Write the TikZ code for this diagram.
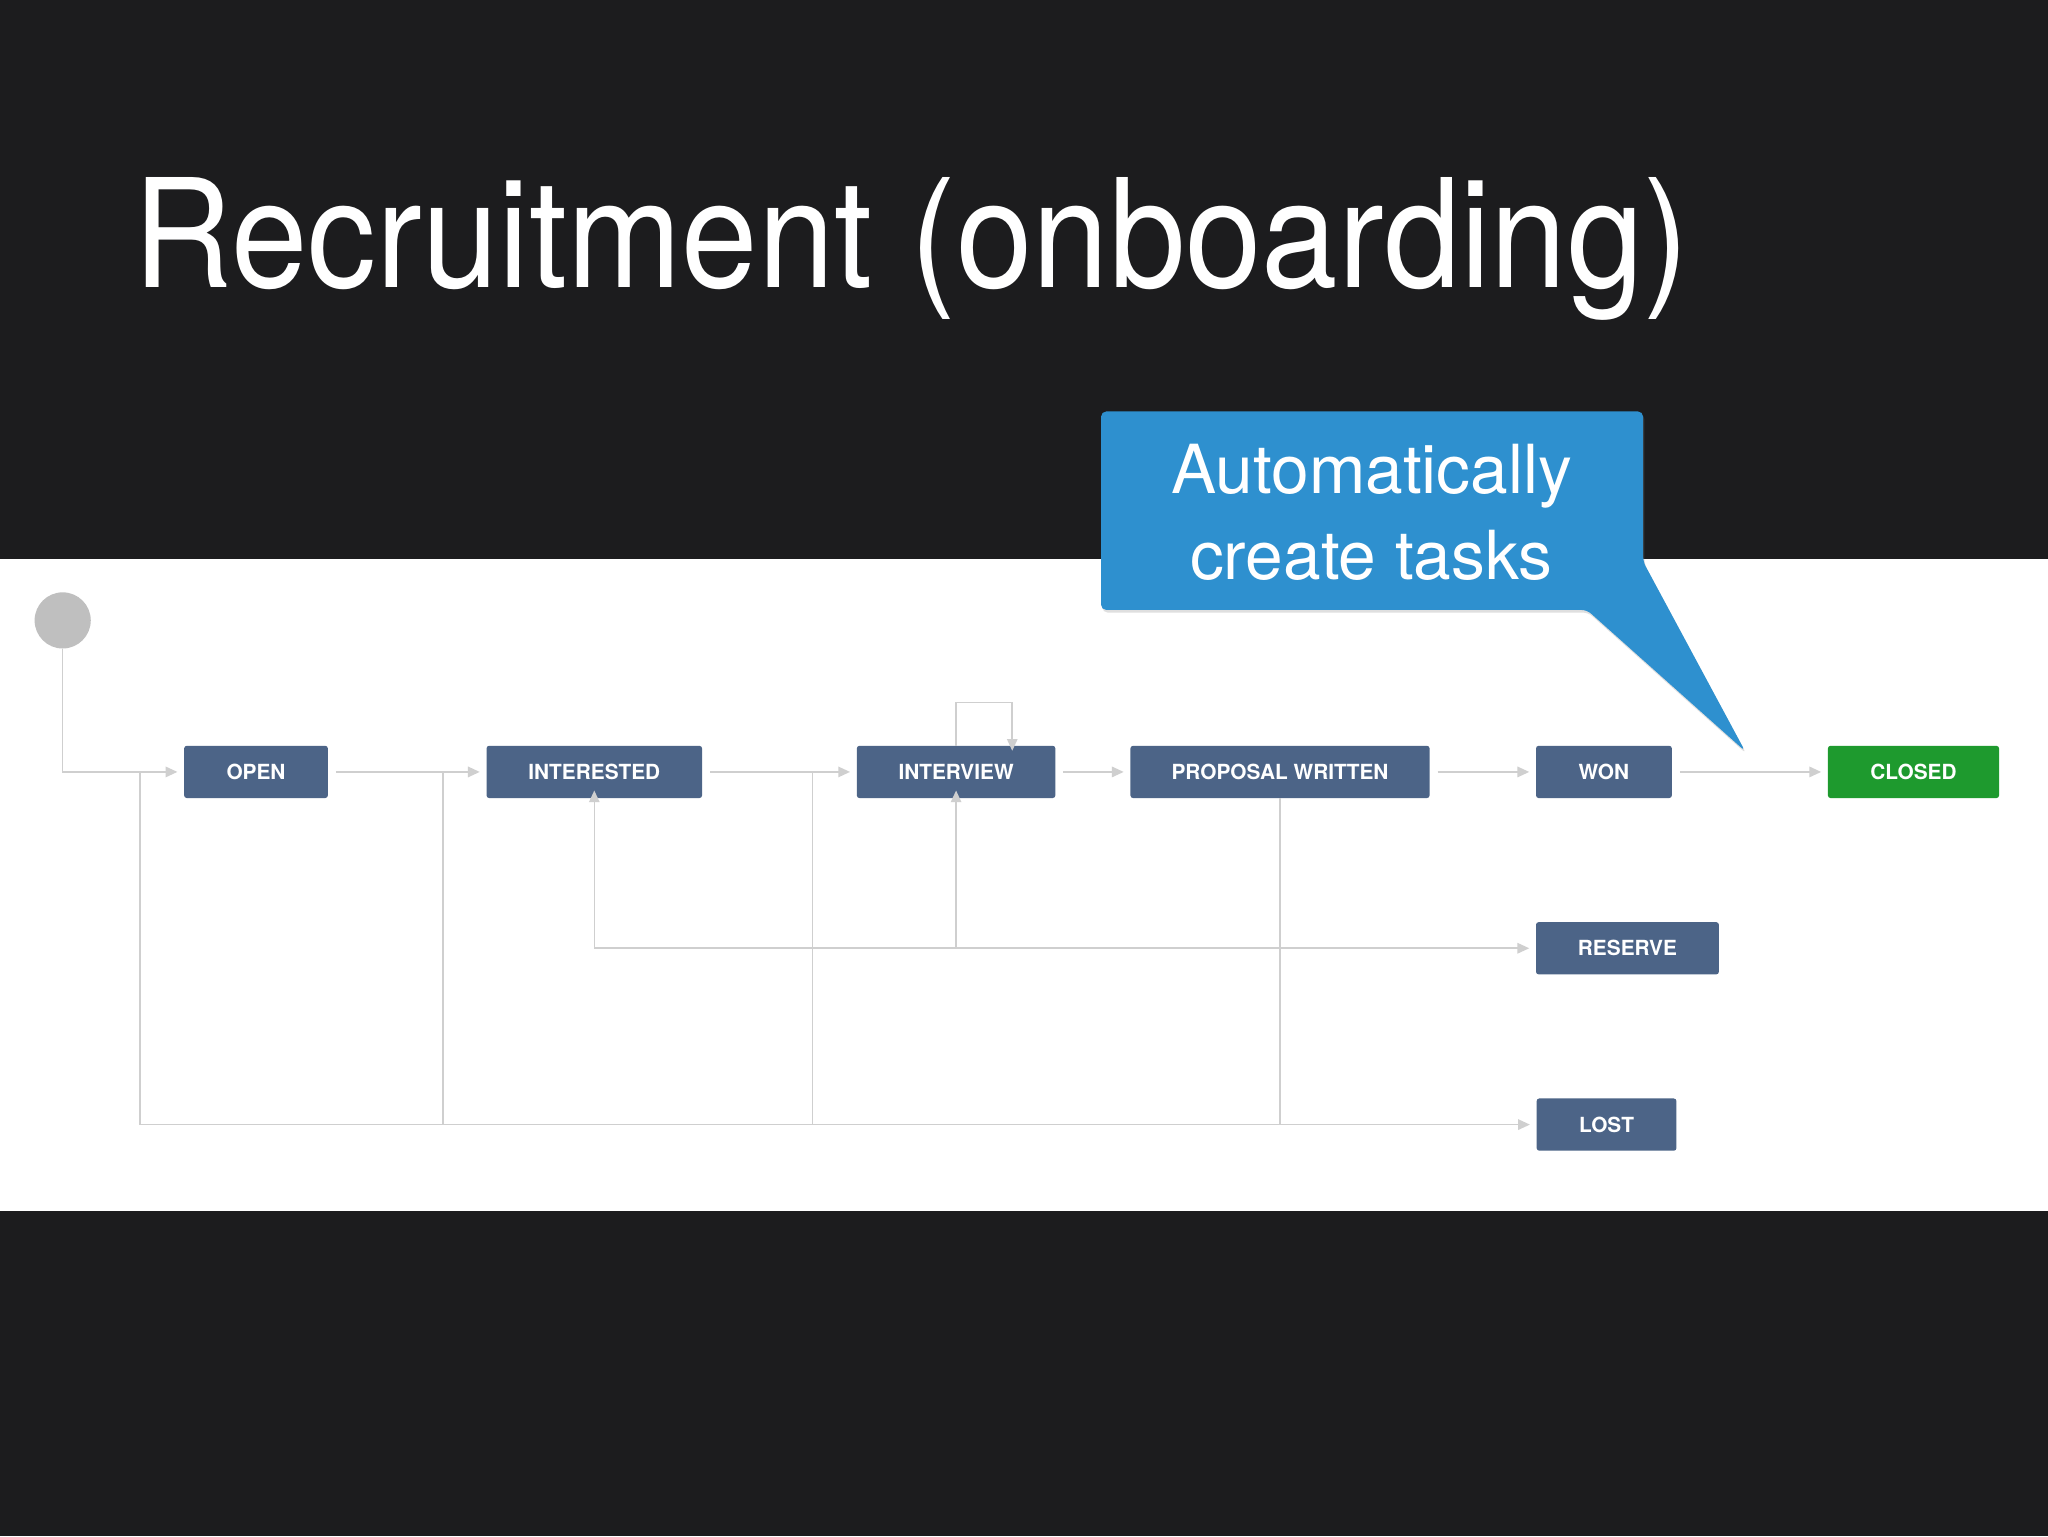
\documentclass[tikz,border=0pt]{standalone}
\usepackage{fontspec}
\setmainfont{TeX Gyre Heros}
\usetikzlibrary{arrows.meta,shadows}
\definecolor{bg}{HTML}{1C1C1E}
\definecolor{nb}{HTML}{4C6487}
\definecolor{gr}{HTML}{1E9A2E}
\definecolor{ln}{HTML}{CFCFCF}
\definecolor{cb}{HTML}{2E90CF}
\begin{document}
\begin{tikzpicture}[x=1bp,y=-1bp,
  st/.style={fill=nb,rounded corners=2bp,minimum height=40bp,text=white,font=\fontsize{16}{16}\selectfont\bfseries,inner sep=0pt},
  cn/.style={draw=ln,line width=1.2bp,-{Triangle[length=9bp,width=8bp]}},
  pl/.style={draw=ln,line width=1.2bp}]
\useasboundingbox (0,0) rectangle (1568,1176);
\fill[bg] (0,0) rectangle (1568,1176);
\fill[white] (0,428) rectangle (1568,927);
\node[anchor=base west,text=white,inner sep=0,font=\fontsize{116}{116}\selectfont] (title) at (102,220) {\scalebox{0.91}[1]{Recruitment (onboarding)}};
\node[circle,fill=gray!50,minimum size=43bp,inner sep=0] (start) at (48,475) {};
\node[st,minimum width=110bp] (open) at (196,591) {OPEN};
\node[st,minimum width=165bp] (int) at (455,591) {INTERESTED};
\node[st,minimum width=152bp] (iv) at (732,591) {INTERVIEW};
\node[st,minimum width=229bp] (pw) at (980,591) {PROPOSAL WRITTEN};
\node[st,minimum width=104bp] (won) at (1228,591) {WON};
\node[st,fill=gr,minimum width=131bp] (cl) at (1465,591) {CLOSED};
\node[st,minimum width=140bp] (res) at (1246,726) {RESERVE};
\node[st,minimum width=107bp] (lost) at (1230,861) {LOST};
\draw[cn] (start.south) |- ([xshift=-5bp]open.west);
\draw[cn] ([xshift=6bp]open.east) -- ([xshift=-5bp]int.west);
\draw[cn] ([xshift=6bp]int.east) -- ([xshift=-5bp]iv.west);
\draw[cn] ([xshift=6bp]iv.east) -- ([xshift=-5bp]pw.west);
\draw[cn] ([xshift=6bp]pw.east) -- ([xshift=-5bp]won.west);
\draw[cn] ([xshift=6bp]won.east) -- ([xshift=-5bp]cl.west);
\draw[cn] (iv.north) -- ++(0,-33) -| ([xshift=43bp,yshift=-4bp]iv.north);
\coordinate (a) at (107,591); \coordinate (b) at (339,591); \coordinate (c) at (622,591);
\draw[pl] (a) -- (107,861); \draw[pl] (b) -- (339,861); \draw[pl] (c) -- (622,861);
\draw[pl] (pw.south) -- (980,861);
\draw[cn] (107,861) -- ([xshift=-5bp]lost.west);
\draw[cn] (455,726) -- ([xshift=-5bp]res.west);
\draw[cn] (455,726) -- ([yshift=6bp]int.south);
\draw[cn] (732,726) -- ([yshift=6bp]iv.south);
\fill[cb,rounded corners=4bp,drop shadow={opacity=0.25,shadow xshift=1bp,shadow yshift=-2bp}] (843,315) -- (1258,315) -- (1258,430) -- (1336,575) -- (1215,467) -- (843,467) -- cycle;
\node[text=white,align=center,font=\fontsize{52}{66}\selectfont] (call) at (1050,392) {Automatically\\create tasks};
\end{tikzpicture}
\end{document}
